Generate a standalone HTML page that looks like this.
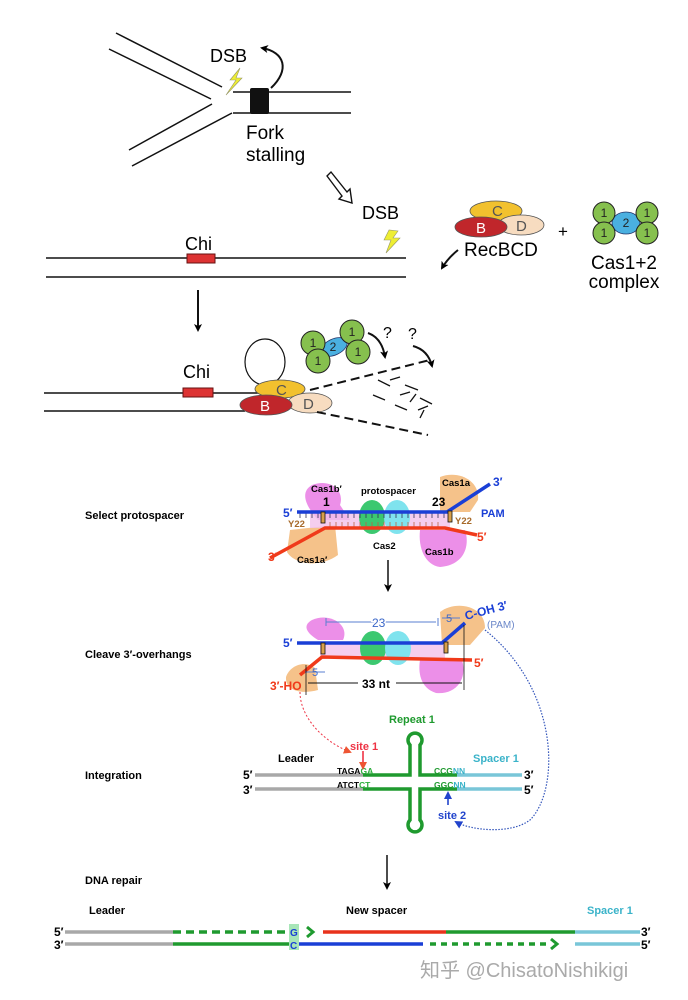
<!DOCTYPE html>
<html><head><meta charset="utf-8"><style>
html,body{margin:0;padding:0;background:#fff}
svg{display:block}
text{font-family:"Liberation Sans","Noto Sans CJK SC",sans-serif}
</style></head><body>
<svg width="688" height="1000" viewBox="0 0 688 1000" xmlns="http://www.w3.org/2000/svg">
<defs>
<marker id="ah" markerWidth="8" markerHeight="8" refX="6" refY="4" orient="auto" markerUnits="userSpaceOnUse"><path d="M0,0 L8,4 L0,8 L2,4z" fill="#000"/></marker>
<marker id="ahr" markerWidth="8" markerHeight="8" refX="6" refY="4" orient="auto" markerUnits="userSpaceOnUse"><path d="M0,0 L8,4 L0,8z" fill="#e53"/></marker>
<marker id="ahb" markerWidth="8" markerHeight="8" refX="6" refY="4" orient="auto" markerUnits="userSpaceOnUse"><path d="M0,0 L8,4 L0,8z" fill="#24c"/></marker>
</defs>
<g stroke="#111" stroke-width="1.5" fill="none">
<line x1="116" y1="33" x2="222" y2="87"/><line x1="109" y1="49" x2="211" y2="99"/>
<line x1="129" y1="150" x2="212" y2="104"/><line x1="132" y1="166" x2="232" y2="113"/>
<line x1="233" y1="92" x2="351" y2="92"/><line x1="233" y1="113" x2="351" y2="113"/>
<path d="M271,88 C290,70 285,52 262,48" marker-end="url(#ah)" stroke-width="2"/>
</g>
<rect x="250" y="88" width="19" height="26" fill="#111" rx="2"/>
<text x="210" y="62" font-size="18">DSB</text>
<path d="M240,68 L230,80 L236,80 L226,95 L242,78 L236,78 Z" fill="#ee3" stroke="#996" stroke-width="0.6"/>
<text x="246" y="139" font-size="19">Fork</text><text x="246" y="161" font-size="19">stalling</text>
<path d="M327,176 L331,172 L347,192 L350,189 L352,203 L339,199 L342,196 Z" fill="#fff" stroke="#111" stroke-width="1.4"/>
<text x="362" y="219" font-size="18">DSB</text>
<path d="M389,230 L384,240 L391,240 L386,253 L400,238 L393,238 L398,231 Z" fill="#ee3" stroke="#996" stroke-width="0.6"/>
<text x="185" y="250" font-size="18">Chi</text>
<line x1="46" y1="258" x2="406" y2="258" stroke="#111" stroke-width="1.5"/>
<line x1="46" y1="277" x2="406" y2="277" stroke="#111" stroke-width="1.5"/>
<rect x="187" y="254" width="28" height="9" fill="#d33" stroke="#611" stroke-width="1"/>
<ellipse cx="496" cy="211" rx="26" ry="10" fill="#f2c12e" stroke="#555" stroke-width="0.8"/>
<ellipse cx="521" cy="225" rx="23" ry="10" fill="#f7dcc0" stroke="#555" stroke-width="0.8"/>
<ellipse cx="481" cy="227" rx="26" ry="10" fill="#c0262b" stroke="#555" stroke-width="0.8"/>
<text x="492" y="216" font-size="15" fill="#555">C</text>
<text x="476" y="233" font-size="15" fill="#fff">B</text>
<text x="516" y="231" font-size="15" fill="#555">D</text>
<text x="464" y="256" font-size="19">RecBCD</text>
<path d="M458,250 Q448,258 442,268" stroke="#111" stroke-width="2" fill="none" marker-end="url(#ah)"/>
<text x="558" y="237" font-size="17">+</text>
<ellipse cx="626" cy="223" rx="14" ry="11" fill="#4ab0e0" stroke="#236" stroke-width="0.8"/>
<g fill="#86c04e" stroke="#222" stroke-width="1">
<circle cx="604" cy="213" r="11"/><circle cx="604" cy="233" r="11"/><circle cx="647" cy="213" r="11"/><circle cx="647" cy="233" r="11"/></g>
<g font-size="12" fill="#222" text-anchor="middle"><text x="604" y="217">1</text><text x="604" y="237">1</text><text x="647" y="217">1</text><text x="647" y="237">1</text><text x="626" y="227">2</text></g>
<text x="624" y="269" font-size="19" text-anchor="middle">Cas1+2</text>
<text x="624" y="288" font-size="19" text-anchor="middle">complex</text>
<line x1="198" y1="290" x2="198" y2="330" stroke="#111" stroke-width="2" marker-end="url(#ah)"/>
<text x="183" y="378" font-size="18">Chi</text>
<line x1="44" y1="393" x2="260" y2="393" stroke="#111" stroke-width="1.5"/>
<line x1="44" y1="411" x2="245" y2="411" stroke="#111" stroke-width="1.5"/>
<rect x="183" y="388" width="30" height="9" fill="#d33" stroke="#611" stroke-width="1"/>
<ellipse cx="265" cy="362" rx="20" ry="23" fill="none" stroke="#111" stroke-width="1.2"/>
<ellipse cx="280" cy="389" rx="25" ry="9" fill="#f2c12e" stroke="#555" stroke-width="0.8"/>
<ellipse cx="310" cy="403" rx="22" ry="10" fill="#f7dcc0" stroke="#555" stroke-width="0.8"/>
<ellipse cx="266" cy="405" rx="26" ry="10" fill="#c0262b" stroke="#555" stroke-width="0.8"/>
<text x="276" y="395" font-size="15" fill="#555">C</text><text x="260" y="411" font-size="15" fill="#fff">B</text><text x="303" y="409" font-size="15" fill="#555">D</text>
<g stroke="#111" stroke-width="2" stroke-dasharray="9,5"><line x1="310" y1="390" x2="430" y2="360"/><line x1="317" y1="412" x2="428" y2="435"/></g>
<g stroke="#111" stroke-width="1.3"><line x1="373" y1="395" x2="385" y2="400"/><line x1="390" y1="380" x2="400" y2="377"/><line x1="405" y1="385" x2="418" y2="390"/><line x1="378" y1="380" x2="390" y2="386"/><line x1="400" y1="395" x2="410" y2="392"/><line x1="410" y1="402" x2="416" y2="394"/><line x1="420" y1="398" x2="432" y2="404"/><line x1="395" y1="405" x2="407" y2="410"/><line x1="418" y1="410" x2="428" y2="406"/><line x1="420" y1="418" x2="424" y2="410"/></g>
<ellipse cx="334" cy="347" rx="14" ry="8" fill="#4ab0e0" stroke="#236" stroke-width="0.8" transform="rotate(-25 334 347)"/>
<g fill="#86c04e" stroke="#222" stroke-width="1"><circle cx="313" cy="343" r="12"/><circle cx="318" cy="361" r="12"/><circle cx="352" cy="332" r="12"/><circle cx="358" cy="352" r="12"/></g>
<g font-size="12" fill="#222" text-anchor="middle"><text x="313" y="347">1</text><text x="318" y="365">1</text><text x="352" y="336">1</text><text x="358" y="356">1</text><text x="333" y="351">2</text></g>
<text x="383" y="338" font-size="16">?</text><text x="408" y="339" font-size="16">?</text>
<path d="M368,333 Q382,338 385,357" stroke="#111" stroke-width="2" fill="none" marker-end="url(#ah)"/>
<path d="M413,346 Q428,350 432,366" stroke="#111" stroke-width="2" fill="none" marker-end="url(#ah)"/>
<g font-size="11" font-weight="bold"><text x="85" y="519">Select protospacer</text><text x="85" y="658">Cleave 3′-overhangs</text><text x="85" y="779">Integration</text><text x="85" y="884">DNA repair</text></g>
<path d="M312,485 C330,478 345,490 340,505 L350,520 L318,520 C305,505 300,492 312,485Z" fill="#ec8fe8"/>
<path d="M440,477 C458,470 480,480 478,500 L470,512 L440,512 Z" fill="#f5c28a"/>
<path d="M290,530 L335,525 L338,555 C320,568 295,565 287,552Z" fill="#f5c28a"/>
<path d="M420,530 L465,530 C470,545 465,565 440,567 C425,565 418,548 420,530Z" fill="#ec8fe8"/>
<rect x="310" y="513" width="140" height="15" fill="#f2c2ea" opacity="0.8"/>
<ellipse cx="372" cy="517" rx="13" ry="17" fill="#3cc870"/>
<ellipse cx="397" cy="517" rx="13" ry="17" fill="#7fe3ee"/>
<g stroke="#335" stroke-width="0.8"><path d="M300,512 V518 M306,512 V518 M312,512 V518 M318,512 V518 M324,512 V518 M330,512 V518 M336,512 V518 M342,512 V518 M348,512 V518 M354,512 V518 M360,512 V518 M366,512 V518 M372,512 V518 M378,512 V518 M384,512 V518 M390,512 V518 M396,512 V518 M402,512 V518 M408,512 V518 M414,512 V518 M420,512 V518 M426,512 V518 M432,512 V518 M438,512 V518 M444,512 V518"/></g>
<g stroke="#b64" stroke-width="0.8"><path d="M330,522 V528 M336,522 V528 M342,522 V528 M348,522 V528 M354,522 V528 M360,522 V528 M366,522 V528 M372,522 V528 M378,522 V528 M384,522 V528 M390,522 V528 M396,522 V528 M402,522 V528 M408,522 V528 M414,522 V528 M420,522 V528 M426,522 V528 M432,522 V528 M438,522 V528"/></g>
<polyline points="297,512 447,512 490,484" fill="none" stroke="#1a3fd6" stroke-width="3.5"/>
<polyline points="270,558 325,528 445,528 477,535" fill="none" stroke="#f03a1a" stroke-width="3.5"/>
<rect x="321" y="512" width="4" height="11" fill="#d9a048" stroke="#111" stroke-width="0.8"/>
<rect x="448" y="511" width="4" height="11" fill="#d9a048" stroke="#111" stroke-width="0.8"/>
<g font-size="9.5" font-weight="bold"><text x="311" y="492">Cas1b′</text><text x="361" y="494">protospacer</text><text x="442" y="486">Cas1a</text><text x="373" y="549">Cas2</text><text x="297" y="563">Cas1a′</text><text x="425" y="555">Cas1b</text><text x="288" y="527" fill="#a76a2a">Y22</text><text x="455" y="524" fill="#a76a2a">Y22</text></g>
<g font-size="12" font-weight="bold"><text x="323" y="506">1</text><text x="432" y="506">23</text><text x="493" y="486" fill="#1a3fd6">3′</text><text x="283" y="517" fill="#1a3fd6">5′</text><text x="477" y="541" fill="#f03a1a">5′</text><text x="268" y="561" fill="#f03a1a">3′</text></g>
<text x="481" y="517" font-size="11" font-weight="bold" fill="#1a3fd6">PAM</text>
<line x1="388" y1="560" x2="388" y2="590" stroke="#111" stroke-width="1.5" marker-end="url(#ah)"/>
<path d="M312,620 C330,612 350,625 343,640 L318,640 C305,632 303,625 312,620Z" fill="#ec8fe8"/>
<path d="M440,612 C455,600 485,605 485,628 L470,645 L442,645Z" fill="#f5c28a"/>
<path d="M286,677 C290,665 305,660 315,668 L318,690 C300,695 285,690 286,677Z" fill="#f5c28a"/>
<path d="M420,660 L462,660 C468,680 455,695 436,693 C420,688 418,672 420,660Z" fill="#ec8fe8"/>
<rect x="320" y="643" width="125" height="15" fill="#f2c2ea" opacity="0.8"/>
<ellipse cx="373" cy="648" rx="13" ry="17" fill="#3cc870"/>
<ellipse cx="398" cy="648" rx="13" ry="17" fill="#7fe3ee"/>
<polyline points="297,643 442,643 465,623" fill="none" stroke="#1a3fd6" stroke-width="3.5"/>
<polyline points="300,675 322,657 472,660" fill="none" stroke="#f03a1a" stroke-width="3.5"/>
<rect x="321" y="643" width="4" height="11" fill="#d9a048" stroke="#111" stroke-width="0.8"/>
<rect x="444" y="642" width="4" height="11" fill="#d9a048" stroke="#111" stroke-width="0.8"/>
<g stroke="#5a7fd0" stroke-width="1" fill="none"><line x1="326" y1="622" x2="436" y2="622"/><line x1="326" y1="618" x2="326" y2="626"/><line x1="438" y1="618" x2="438" y2="626"/><line x1="442" y1="618" x2="460" y2="618"/><line x1="305" y1="672" x2="325" y2="672"/></g>
<line x1="308" y1="683" x2="462" y2="683" stroke="#111" stroke-width="1"/>
<line x1="306" y1="665" x2="306" y2="695" stroke="#111" stroke-width="0.8"/><line x1="464" y1="625" x2="464" y2="690" stroke="#111" stroke-width="0.8"/>
<rect x="358" y="676" width="38" height="14" fill="#fff"/>
<text x="362" y="688" font-size="12" font-weight="bold">33 nt</text>
<text x="372" y="627" font-size="12" fill="#3a66c8" style="paint-order:stroke" stroke="#fff" stroke-width="3">23</text>
<text x="446" y="622" font-size="11" fill="#3a66c8">5</text><text x="312" y="676" font-size="11" fill="#3a66c8">5</text>
<g font-size="12" font-weight="bold"><text x="283" y="647" fill="#1a3fd6">5′</text><text x="474" y="667" fill="#f03a1a">5′</text><text x="270" y="690" fill="#f03a1a">3′-HO</text><text x="466" y="620" fill="#1a3fd6" transform="rotate(-15 466 620)">C-OH 3′</text></g>
<text x="487" y="628" font-size="10" fill="#6a86c8">(PAM)</text>
<path d="M300,692 C300,715 320,740 350,752" fill="none" stroke="#e34" stroke-width="1" stroke-dasharray="2,2" marker-end="url(#ahr)"/>
<path d="M485,630 C560,690 560,790 530,820 C510,835 470,830 456,822" fill="none" stroke="#3355bb" stroke-width="1.2" stroke-dasharray="1.5,1.5" marker-end="url(#ahb)"/>
<g stroke-width="3.5" fill="none">
<line x1="255" y1="775" x2="363" y2="775" stroke="#a8a8a8"/><line x1="255" y1="789" x2="363" y2="789" stroke="#a8a8a8"/>
<line x1="457" y1="775" x2="522" y2="775" stroke="#79c6d8"/><line x1="457" y1="789" x2="522" y2="789" stroke="#79c6d8"/>
<path d="M363,775 H410 V745 A7,7 0 1,1 420,745 V775 H457" stroke="#1f9a2f"/>
<path d="M363,789 H410 V820 A7,7 0 1,0 420,820 V789 H457" stroke="#1f9a2f"/>
</g>
<g font-size="11" font-weight="bold"><text x="389" y="723" fill="#1f9a2f">Repeat 1</text><text x="278" y="762">Leader</text><text x="473" y="762" fill="#3ab3c9">Spacer 1</text><text x="350" y="750" fill="#e34">site 1</text><text x="438" y="819" fill="#24c">site 2</text></g>
<g font-size="12" font-weight="bold"><text x="243" y="779">5′</text><text x="243" y="794">3′</text><text x="524" y="779">3′</text><text x="524" y="794">5′</text></g>
<g font-size="8.5" font-weight="bold"><text x="337" y="774">TAGA<tspan fill="#2cae3c">GA</tspan></text><text x="337" y="788">ATCT<tspan fill="#2cae3c">CT</tspan></text><text x="434" y="774" fill="#1f9a2f">CCG<tspan fill="#3ab3c9">NN</tspan></text><text x="434" y="788" fill="#1f9a2f">GGC<tspan fill="#3ab3c9">NN</tspan></text></g>
<line x1="363" y1="751" x2="363" y2="768" stroke="#e34" stroke-width="1.6" marker-end="url(#ahr)"/>
<line x1="448" y1="805" x2="448" y2="793" stroke="#24c" stroke-width="1.6" marker-end="url(#ahb)"/>
<line x1="387" y1="855" x2="387" y2="888" stroke="#111" stroke-width="1.5" marker-end="url(#ah)"/>
<g font-size="11" font-weight="bold"><text x="89" y="914">Leader</text><text x="346" y="914">New spacer</text><text x="587" y="914" fill="#3ab3c9">Spacer 1</text></g>
<g font-size="12" font-weight="bold"><text x="54" y="936">5′</text><text x="54" y="949">3′</text><text x="641" y="936">3′</text><text x="641" y="949">5′</text></g>
<g stroke-width="3.5" fill="none">
<line x1="65" y1="932" x2="173" y2="932" stroke="#a8a8a8"/><line x1="65" y1="944" x2="173" y2="944" stroke="#a8a8a8"/>
<line x1="173" y1="932" x2="290" y2="932" stroke="#1f9a2f" stroke-dasharray="8,5"/>
<line x1="173" y1="944" x2="290" y2="944" stroke="#1f9a2f"/>
<line x1="323" y1="932" x2="446" y2="932" stroke="#e8321c"/>
<line x1="446" y1="932" x2="575" y2="932" stroke="#1f9a2f"/>
<line x1="298" y1="944" x2="423" y2="944" stroke="#1a3fd6"/>
<line x1="430" y1="944" x2="550" y2="944" stroke="#1f9a2f" stroke-dasharray="6,5"/>
<line x1="575" y1="932" x2="640" y2="932" stroke="#79c6d8"/><line x1="575" y1="944" x2="640" y2="944" stroke="#79c6d8"/>
<path d="M307,927 L313,932 L307,937" stroke="#1f9a2f" stroke-width="3"/>
<path d="M551,939 L557,944 L551,949" stroke="#1f9a2f" stroke-width="3"/>
</g>
<rect x="289" y="924" width="10" height="26" fill="#a8e6b8"/>
<text x="290" y="936" font-size="10" font-weight="bold" fill="#1a3fd6">G</text>
<text x="290" y="949" font-size="10" font-weight="bold" fill="#1a3fd6">C</text>
<text x="420" y="977" font-size="20" fill="#aaa">知乎 @ChisatoNishikigi</text>
</svg>
</body></html>
